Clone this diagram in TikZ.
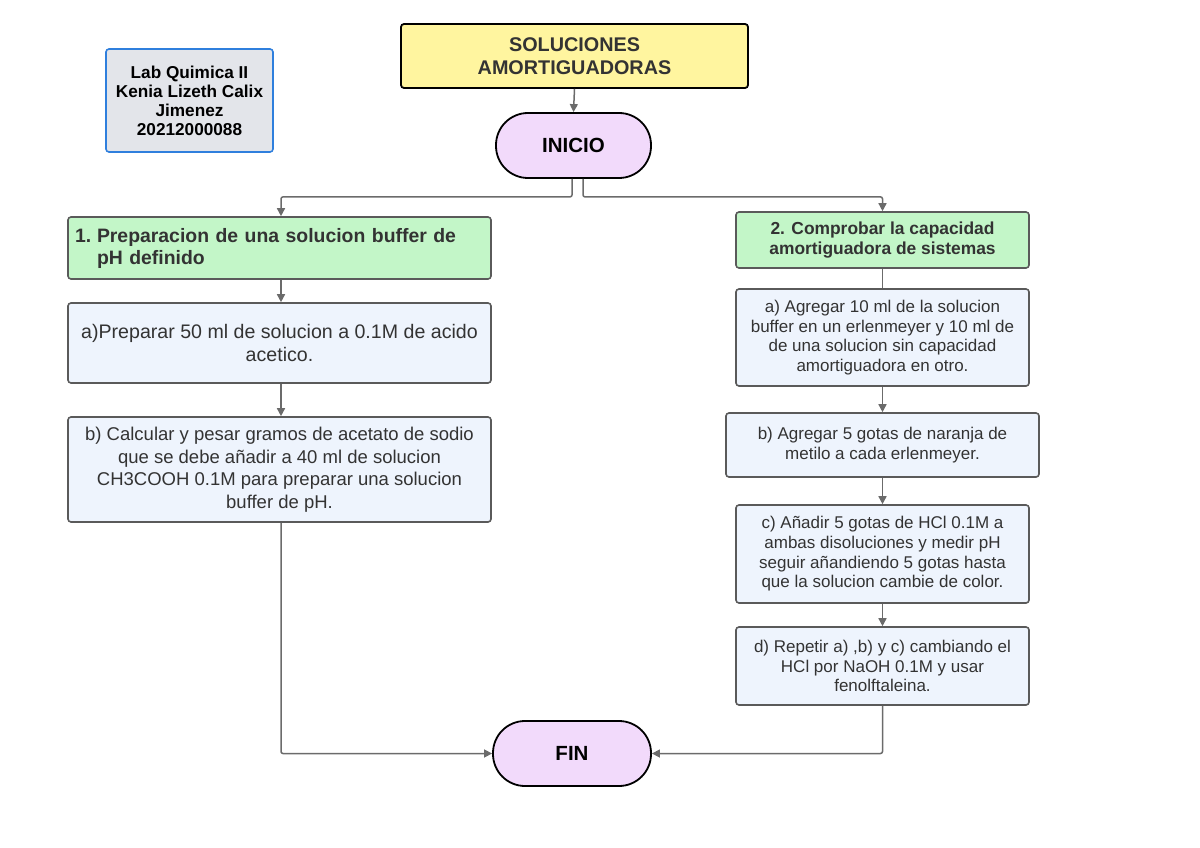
\documentclass[tikz,border=0pt]{standalone}
\usepackage{fontspec}
\setmainfont{Liberation Sans}
\usetikzlibrary{arrows.meta}
\definecolor{txt}{HTML}{333333}
\definecolor{bord}{HTML}{5A5A5A}
\definecolor{conn}{HTML}{6B6B6B}
\definecolor{yellowf}{HTML}{FFF59F}
\definecolor{lav}{HTML}{F2DAFB}
\definecolor{greenf}{HTML}{C3F6C8}
\definecolor{bluef}{HTML}{EEF4FD}
\definecolor{grayf}{HTML}{E3E5EA}
\definecolor{blueb}{HTML}{2F7FDD}
\begin{document}
\begin{tikzpicture}[x=1pt,y=-1pt,
  box/.style={draw=bord, line width=1.6pt, rounded corners=3pt, align=center, inner sep=0pt, text=txt},
  stadium/.style={draw=black, line width=1.8pt, fill=lav, rounded corners=32pt, align=center, inner sep=0pt, font=\fontsize{20.5}{24}\selectfont\bfseries},
  arr/.style={draw=conn, line width=1.5pt, rounded corners=2pt, -{Triangle[length=8pt,width=8pt]}},
  ln/.style={draw=conn, line width=1.5pt, rounded corners=2pt},
  bodyL/.style={font=\fontsize{19.6}{22.5}\selectfont},
  bodyR/.style={font=\fontsize{17}{19.6}\selectfont}
]
\useasboundingbox (0,0) rectangle (1200,848);

\node[box, draw=blueb, fill=grayf, text=black, minimum width=167pt, minimum height=103pt,
  font=\fontsize{17.2}{19}\selectfont\bfseries] (info) at (189.5,100.5)
  {Lab Quimica II\\Kenia Lizeth Calix\\Jimenez\\20212000088};

\node[box, draw=black, line width=1.8pt, fill=yellowf, minimum width=347pt, minimum height=64pt,
  font=\fontsize{19.8}{22.5}\selectfont\bfseries] (title) at (574.5,56)
  {SOLUCIONES\\AMORTIGUADORAS};

\node[stadium, minimum width=155pt, minimum height=65pt] (ini) at (573.5,145.5) {INICIO};
\node[stadium, minimum width=158pt, minimum height=65pt] (fin) at (572,753.5) {FIN};

% left column
\node[box, fill=greenf, minimum width=423pt, minimum height=62pt, text width=409pt, align=left,
  font=\fontsize{19.4}{22}\selectfont\bfseries] (b1) at (279.5,248)
  {\makebox[22pt][l]{1.}Preparacion de una solucion buffer de\\\hspace*{22pt}pH definido};
\node[box, fill=bluef, minimum width=423pt, minimum height=80pt, bodyL] (la) at (279.5,343)
  {a)Preparar 50 ml de solucion a 0.1M de acido\\acetico.};
\node[box, fill=bluef, minimum width=423pt, minimum height=105pt, font=\fontsize{18.5}{22.5}\selectfont] (lb) at (279.5,469.5)
  {b) Calcular y pesar gramos de acetato de sodio\\que se debe añadir a 40 ml de solucion\\CH3COOH 0.1M para preparar una solucion\\buffer de pH.};

% right column
\node[box, fill=greenf, minimum width=293pt, minimum height=56pt,
  font=\fontsize{17.4}{20}\selectfont\bfseries] (b2) at (882.5,240)
  {2. Comprobar la capacidad\\amortiguadora de sistemas};
\node[box, fill=bluef, minimum width=293pt, minimum height=97pt, bodyR] (ra) at (882.5,337.5)
  {a) Agregar 10 ml de la solucion\\buffer en un erlenmeyer y 10 ml de\\de una solucion sin capacidad\\amortiguadora en otro.};
\node[box, fill=bluef, minimum width=313pt, minimum height=64pt, bodyR] (rb) at (882.5,445)
  {b) Agregar 5 gotas de naranja de\\metilo a cada erlenmeyer.};
\node[box, fill=bluef, minimum width=293pt, minimum height=98pt, bodyR] (rc) at (882.5,554)
  {c) Añadir 5 gotas de HCl 0.1M a\\ambas disoluciones y medir pH\\seguir añandiendo 5 gotas hasta\\que la solucion cambie de color.};
\node[box, fill=bluef, minimum width=293pt, minimum height=78pt, bodyR] (rd) at (882.5,666)
  {d) Repetir a) ,b) y c) cambiando el\\HCl por NaOH 0.1M y usar\\fenolftaleina.};

% connectors
\draw[arr] (title.south) -- (ini.north);
\draw[arr] ([xshift=-1.5pt]ini.south) -- ++(0,18) -| ([xshift=1.5pt]b1.north);
\draw[arr] ([xshift=9.5pt]ini.south) -- ++(0,18) -| (b2.north);
\draw[arr] ([xshift=1.5pt]b1.south) -- ([xshift=1.5pt]la.north);
\draw[arr] ([xshift=1.5pt]la.south) -- ([xshift=1.5pt]lb.north);
\draw[arr] ([xshift=1.5pt]lb.south) |- (fin.west);
\draw[ln] (b2.south) -- (ra.north);
\draw[arr] (ra.south) -- (rb.north);
\draw[arr] (rb.south) -- (rc.north);
\draw[arr] (rc.south) -- (rd.north);
\draw[arr] (rd.south) |- (fin.east);
\end{tikzpicture}
\end{document}
